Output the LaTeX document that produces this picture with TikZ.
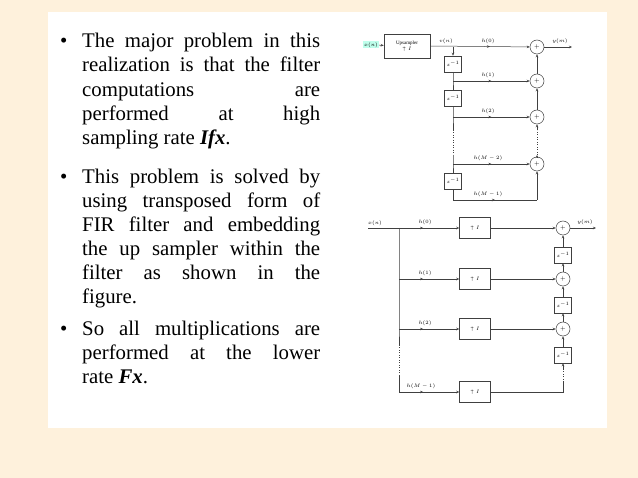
\documentclass[tikz,border=0pt]{standalone}
\usepackage{fontspec}
\setmainfont{Liberation Serif}
\usetikzlibrary{arrows.meta,decorations.markings}
\begin{document}
\begin{tikzpicture}[x=1pt,y=-1pt,
  ln/.style={draw=black!75,line width=0.5pt},
  ar/.style={ln,-{Stealth[length=3pt,width=2.5pt]}},
  mid/.style={ln,postaction={decorate},decoration={markings,mark=at position #1 with {\arrow{Stealth[length=3pt,width=2.5pt]}}}},
  sm/.style={circle,draw=black!75,line width=0.5pt,minimum size=14pt,inner sep=0pt,font=\fontsize{6}{6}\selectfont},
  zb/.style={draw=black!75,line width=0.5pt,minimum width=17pt,minimum height=16pt,inner sep=0pt,font=\fontsize{5}{5}\selectfont},
  tb/.style={draw=black!75,line width=0.5pt,minimum width=31pt,minimum height=21pt,inner sep=0pt,font=\fontsize{5}{5}\selectfont},
  lb/.style={font=\fontsize{4.5}{5}\selectfont,inner sep=1pt},
  tx/.style={anchor=base west,inner sep=0pt,font=\fontsize{20.8}{21}\selectfont}]
\useasboundingbox (0,0) rectangle (638,478);
\fill[yellow!18!orange!12!white] (0,0) rectangle (638,478);
\fill[white] (48,12) rectangle (607,428);
% text
\foreach \y/\t in {48/{\makebox[238pt][s]{The major problem in this}},
 72/{\makebox[238pt][s]{realization is that the filter}},
 97/{\makebox[238pt][s]{computations \hfill are}},
 121/{\makebox[238pt][s]{performed \hfill at \hfill high}},
 145/{sampling rate \textbf{\textit{Ifx}}.},
 184/{\makebox[238pt][s]{This problem is solved by}},
 208/{\makebox[238pt][s]{using transposed form of}},
 232/{\makebox[238pt][s]{FIR filter and embedding}},
 256/{\makebox[238pt][s]{the up sampler within the}},
 280/{\makebox[238pt][s]{filter as shown in the}},
 304/{figure.},
 336/{\makebox[238pt][s]{So all multiplications are}},
 360/{\makebox[238pt][s]{performed at the lower}},
 384/{rate \textbf{\textit{Fx}}.}}
 \node[tx] at (82,\y) {\t};
\foreach \y in {48,184,336} \node[tx] at (60,\y) {\textbullet};
% ===== top diagram =====
\node[lb,fill=green!30!cyan!25] (xin) at (371,45) {$x(n)$};
\node[draw=black!75,line width=0.5pt,minimum width=46pt,minimum height=24pt,inner sep=0pt,align=center,font=\fontsize{5}{6}\selectfont] (up) at (407,46) {Upsampler\\$\uparrow I$};
\draw[ar] (xin) -- (up);
\coordinate (t0) at (453,47);
\node[zb] (z1) at (453,64) {$z^{-1}$};
\node[zb] (z2) at (453,98) {$z^{-1}$};
\node[zb] (z3) at (453,181) {$z^{-1}$};
\coordinate (t1) at (453,81);
\coordinate (t2) at (453,117);
\coordinate (t3) at (453,164);
\coordinate (t4) at (453,200);
\node[sm] (s0) at (537,47) {$+$};
\node[sm] (s1) at (537,81) {$+$};
\node[sm] (s2) at (537,117) {$+$};
\node[sm] (s3) at (537,164) {$+$};
\coordinate (c4) at (537,200);
\coordinate (yout) at (572,47);
\node[lb] at (446,41) {$v(n)$};
\node[lb] at (560,41) {$y(m)$};
\draw[ar,mid=0.6] (up.east) -- (s0);
\draw[ar] (s0) -- (yout);
\draw[ar] (t0) -- (z1);
\draw[ln] (z1) -- (t1) -- (z2);
\draw[ln] (z2) -- (t2) -- (453,130);
\draw[ln,dotted] (453,130) -- (453,155);
\draw[ln] (453,155) -- (t3) -- (z3) -- (t4);
\foreach \i in {1,2,3}{
  \draw[ar,mid=0.5] (t\i) -- (s\i);
}
\draw[mid=0.5,ln] (t4) -- (c4);
\draw[ar] (c4) -- (s3);
\draw[ar] (s3) -- (537,155);
\draw[ln,dotted] (537,155) -- (537,130);
\draw[ar] (537,130) -- (s2);
\draw[ar] (s2) -- (s1);
\draw[ar] (s1) -- (s0);
\node[lb] at (488,41) {$h(0)$};
\node[lb] at (488,75) {$h(1)$};
\node[lb] at (488,111) {$h(2)$};
\node[lb] at (488,158) {$h(M-2)$};
\node[lb] at (488,194) {$h(M-1)$};
% ===== bottom diagram =====
\coordinate (bx) at (368,228);
\node[lb] at (375,223) {$x(n)$};
\coordinate (b0) at (399,228);
\coordinate (b1) at (399,279);
\coordinate (b2) at (399,329);
\coordinate (b3) at (399,392);
\node[tb] (T0) at (475,228) {$\uparrow I$};
\node[tb] (T1) at (475,279) {$\uparrow I$};
\node[tb] (T2) at (475,329) {$\uparrow I$};
\node[tb] (T3) at (475,392) {$\uparrow I$};
\node[sm] (S0) at (563,228) {$+$};
\node[sm] (S1) at (563,279) {$+$};
\node[sm] (S2) at (563,329) {$+$};
\node[zb] (Z0) at (563,255) {$z^{-1}$};
\node[zb] (Z1) at (563,305) {$z^{-1}$};
\node[zb] (Z2) at (563,355) {$z^{-1}$};
\coordinate (C3) at (563,392);
\coordinate (bout) at (596,228);
\node[lb] at (585,222) {$y(m)$};
\draw[ln] (bx) -- (b0);
\draw[ln] (b0) -- (b2) -- (399,345);
\draw[ln,dotted] (399,345) -- (399,375);
\draw[ln] (399,375) -- (b3);
\foreach \i in {0,1,2,3}{
  \draw[ar,mid=0.4] (b\i) -- (T\i);
}
\foreach \i in {0,1,2}{
  \draw[ar] (T\i) -- (S\i);
}
\draw[ln] (T3) -- (C3) -- (563,382);
\draw[ln,dotted] (563,382) -- (563,370);
\draw[ar] (563,370) -- (Z2);
\draw[ar] (Z2) -- (S2);
\draw[ar] (S2) -- (Z1);
\draw[ar] (Z1) -- (S1);
\draw[ar] (S1) -- (Z0);
\draw[ar] (Z0) -- (S0);
\draw[ar] (S0) -- (bout);
\node[lb] at (425,222) {$h(0)$};
\node[lb] at (425,273) {$h(1)$};
\node[lb] at (425,323) {$h(2)$};
\node[lb] at (421,386) {$h(M-1)$};
\end{tikzpicture}
\end{document}
